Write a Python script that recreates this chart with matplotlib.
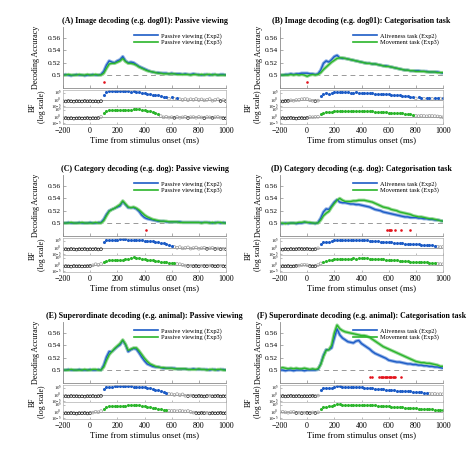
import matplotlib
matplotlib.use('Agg')
import matplotlib.pyplot as plt
from matplotlib.lines import Line2D
import numpy as np

plt.rcParams['font.family'] = ['Liberation Serif', 'DejaVu Serif']
plt.rcParams['mathtext.fontset'] = 'stix'

# time points (ms), 20 ms steps
times = list(range(-200, 1001, 20))

# ---- decoding accuracy, Exp2 (blue) / Exp3 (green) ----
acc_a2 = [0.500, 0.501, 0.500, 0.499, 0.500, 0.501, 0.500, 0.500, 0.499, 0.500,
          0.500, 0.501, 0.500, 0.500, 0.501, 0.506, 0.516, 0.523, 0.521, 0.520,
          0.523, 0.525, 0.530, 0.523, 0.520, 0.521, 0.520, 0.517, 0.514, 0.512,
          0.510, 0.508, 0.506, 0.505, 0.504, 0.504, 0.503, 0.503, 0.503, 0.502,
          0.503, 0.502, 0.502, 0.502, 0.501, 0.502, 0.501, 0.501, 0.502, 0.501,
          0.501, 0.500, 0.501, 0.501, 0.500, 0.501, 0.501, 0.500, 0.501, 0.501,
          0.500]
acc_a3 = [0.500, 0.500, 0.501, 0.500, 0.500, 0.500, 0.501, 0.500, 0.500, 0.501,
          0.500, 0.500, 0.501, 0.500, 0.500, 0.503, 0.511, 0.518, 0.519, 0.519,
          0.521, 0.523, 0.527, 0.522, 0.519, 0.519, 0.518, 0.516, 0.513, 0.511,
          0.509, 0.507, 0.506, 0.505, 0.504, 0.503, 0.503, 0.502, 0.502, 0.502,
          0.502, 0.502, 0.501, 0.501, 0.501, 0.501, 0.501, 0.500, 0.501, 0.501,
          0.500, 0.501, 0.500, 0.501, 0.501, 0.500, 0.501, 0.500, 0.500, 0.500,
          0.500]
acc_b2 = [0.500, 0.500, 0.501, 0.501, 0.502, 0.501, 0.502, 0.502, 0.503, 0.503,
          0.503, 0.502, 0.502, 0.501, 0.502, 0.508, 0.519, 0.523, 0.521, 0.525,
          0.530, 0.532, 0.528, 0.527, 0.527, 0.526, 0.525, 0.524, 0.523, 0.522,
          0.521, 0.520, 0.519, 0.519, 0.518, 0.518, 0.517, 0.516, 0.515, 0.515,
          0.514, 0.513, 0.512, 0.511, 0.510, 0.509, 0.508, 0.508, 0.507, 0.507,
          0.507, 0.507, 0.506, 0.506, 0.506, 0.505, 0.505, 0.505, 0.505, 0.504,
          0.503]
acc_b3 = [0.500, 0.500, 0.500, 0.500, 0.501, 0.500, 0.501, 0.500, 0.501, 0.500,
          0.498, 0.500, 0.501, 0.500, 0.501, 0.504, 0.509, 0.513, 0.517, 0.521,
          0.524, 0.527, 0.528, 0.528, 0.527, 0.526, 0.525, 0.524, 0.523, 0.522,
          0.521, 0.520, 0.519, 0.519, 0.518, 0.518, 0.517, 0.516, 0.515, 0.514,
          0.514, 0.513, 0.512, 0.511, 0.510, 0.509, 0.508, 0.508, 0.507, 0.507,
          0.506, 0.506, 0.506, 0.506, 0.505, 0.505, 0.505, 0.505, 0.504, 0.504,
          0.504]
acc_c2 = [0.500, 0.500, 0.501, 0.500, 0.500, 0.500, 0.501, 0.500, 0.500, 0.500,
          0.501, 0.500, 0.500, 0.501, 0.501, 0.506, 0.514, 0.520, 0.522, 0.524,
          0.526, 0.528, 0.535, 0.530, 0.525, 0.525, 0.525, 0.523, 0.519, 0.513,
          0.509, 0.507, 0.506, 0.505, 0.504, 0.503, 0.503, 0.503, 0.502, 0.502,
          0.502, 0.502, 0.502, 0.502, 0.501, 0.501, 0.501, 0.501, 0.501, 0.501,
          0.501, 0.501, 0.501, 0.501, 0.501, 0.500, 0.501, 0.501, 0.500, 0.501,
          0.500]
acc_c3 = [0.500, 0.500, 0.500, 0.501, 0.500, 0.500, 0.500, 0.501, 0.500, 0.500,
          0.500, 0.500, 0.501, 0.500, 0.500, 0.504, 0.512, 0.519, 0.522, 0.524,
          0.527, 0.530, 0.536, 0.531, 0.526, 0.525, 0.526, 0.524, 0.521, 0.517,
          0.513, 0.510, 0.508, 0.506, 0.505, 0.504, 0.503, 0.503, 0.503, 0.502,
          0.502, 0.502, 0.502, 0.501, 0.501, 0.501, 0.501, 0.501, 0.501, 0.501,
          0.501, 0.500, 0.501, 0.501, 0.500, 0.501, 0.500, 0.501, 0.501, 0.500,
          0.500]
acc_d2 = [0.499, 0.499, 0.500, 0.499, 0.500, 0.500, 0.499, 0.500, 0.500, 0.501,
          0.501, 0.500, 0.500, 0.499, 0.501, 0.508, 0.518, 0.523, 0.522, 0.528,
          0.534, 0.538, 0.534, 0.533, 0.533, 0.532, 0.531, 0.531, 0.530, 0.530,
          0.529, 0.528, 0.527, 0.526, 0.524, 0.522, 0.521, 0.520, 0.518, 0.517,
          0.516, 0.515, 0.514, 0.513, 0.512, 0.511, 0.510, 0.510, 0.509, 0.509,
          0.509, 0.508, 0.508, 0.507, 0.507, 0.506, 0.506, 0.505, 0.505, 0.504,
          0.503]
acc_d3 = [0.500, 0.500, 0.499, 0.500, 0.500, 0.500, 0.500, 0.501, 0.501, 0.502,
          0.501, 0.501, 0.500, 0.500, 0.500, 0.505, 0.512, 0.516, 0.519, 0.526,
          0.532, 0.537, 0.540, 0.537, 0.535, 0.535, 0.535, 0.536, 0.536, 0.537,
          0.537, 0.537, 0.536, 0.535, 0.534, 0.532, 0.530, 0.528, 0.526, 0.525,
          0.524, 0.522, 0.521, 0.520, 0.518, 0.517, 0.516, 0.515, 0.514, 0.512,
          0.511, 0.510, 0.510, 0.509, 0.508, 0.507, 0.507, 0.506, 0.505, 0.504,
          0.503]
acc_e2 = [0.500, 0.500, 0.501, 0.500, 0.500, 0.500, 0.501, 0.500, 0.500, 0.500,
          0.501, 0.500, 0.500, 0.501, 0.500, 0.508, 0.521, 0.530, 0.530, 0.534,
          0.538, 0.541, 0.548, 0.541, 0.530, 0.533, 0.535, 0.534, 0.528, 0.521,
          0.515, 0.510, 0.508, 0.506, 0.505, 0.505, 0.504, 0.503, 0.503, 0.503,
          0.503, 0.503, 0.502, 0.502, 0.502, 0.502, 0.501, 0.501, 0.502, 0.501,
          0.501, 0.501, 0.501, 0.501, 0.500, 0.501, 0.501, 0.500, 0.501, 0.501,
          0.500]
acc_e3 = [0.500, 0.500, 0.500, 0.501, 0.500, 0.500, 0.500, 0.500, 0.501, 0.500,
          0.500, 0.501, 0.501, 0.500, 0.500, 0.505, 0.516, 0.525, 0.530, 0.535,
          0.539, 0.543, 0.549, 0.542, 0.532, 0.534, 0.536, 0.536, 0.531, 0.525,
          0.519, 0.514, 0.510, 0.508, 0.506, 0.505, 0.504, 0.504, 0.503, 0.503,
          0.503, 0.502, 0.502, 0.502, 0.502, 0.502, 0.501, 0.501, 0.501, 0.501,
          0.502, 0.501, 0.501, 0.500, 0.501, 0.501, 0.500, 0.501, 0.501, 0.500,
          0.500]
acc_f2 = [0.500, 0.500, 0.499, 0.500, 0.500, 0.499, 0.500, 0.500, 0.500, 0.499,
          0.500, 0.500, 0.500, 0.500, 0.501, 0.510, 0.524, 0.533, 0.533, 0.536,
          0.552, 0.567, 0.557, 0.552, 0.549, 0.546, 0.545, 0.544, 0.547, 0.548,
          0.543, 0.540, 0.537, 0.534, 0.530, 0.527, 0.525, 0.523, 0.521, 0.519,
          0.516, 0.515, 0.514, 0.513, 0.513, 0.512, 0.511, 0.510, 0.510, 0.509,
          0.509, 0.508, 0.508, 0.507, 0.507, 0.506, 0.506, 0.505, 0.505, 0.504,
          0.503]
acc_f3 = [0.503, 0.504, 0.503, 0.502, 0.503, 0.502, 0.503, 0.502, 0.502, 0.503,
          0.502, 0.501, 0.502, 0.501, 0.502, 0.509, 0.522, 0.532, 0.533, 0.540,
          0.560, 0.573, 0.567, 0.564, 0.562, 0.561, 0.560, 0.559, 0.558, 0.557,
          0.556, 0.556, 0.555, 0.553, 0.550, 0.547, 0.544, 0.541, 0.538, 0.536,
          0.534, 0.532, 0.530, 0.528, 0.526, 0.524, 0.522, 0.520, 0.518, 0.516,
          0.514, 0.513, 0.512, 0.512, 0.511, 0.511, 0.510, 0.509, 0.508, 0.506,
          0.506]

# ---- Bayes factors (log10 BF) vs chance ----
bf_a2 = [-1.2, -1.4, -1.1, -1.3, -1.5, -1.2, -1.3, -1.4, -1.1, -1.3,
         -1.2, -1.4, -1.3, -1.5, -1.2, 3.0, 5.2, 6.0, 6.2, 6.0,
         6.1, 6.3, 6.4, 6.2, 6.0, 5.8, 5.9, 5.6, 5.2, 5.0,
         4.6, 4.3, 4.0, 3.6, 3.3, 3.0, 2.6, 2.2, 1.8, 0.6,
         1.5, 0.4, 1.2, 0.2, -0.3, 0.3, -0.5, 0.2, -0.2, 0.4,
         -0.4, 0.1, -0.6, -0.2, 0.3, -0.9, -0.3, 0.2, -1.1, -0.4,
         -1.2]
bf_a3 = [-1.3, -1.1, -1.4, -1.2, -1.5, -1.3, -1.2, -1.4, -1.3, -1.1,
         -1.4, -1.2, -1.3, -1.1, -0.3, 2.8, 4.2, 4.6, 4.8, 4.7,
         4.8, 5.0, 5.1, 4.9, 4.8, 5.0, 5.3, 5.4, 5.2, 5.0,
         4.7, 4.3, 3.9, 3.4, 2.8, 1.8, 0.3, -0.6, -0.2, -0.8,
         -0.5, -1.0, -0.3, -0.9, -0.6, -0.2, -1.1, -0.5, -0.4, -0.9,
         -0.3, -0.7, -1.2, -0.4, -0.6, -1.0, -0.5, -0.3, -0.8, -1.2,
         -1.3]
bf_b2 = [-1.2, -1.4, -1.1, -1.0, -0.6, -0.9, -0.4, -0.3, 0.2, 0.4,
         0.3, -0.5, -0.9, -1.2, -0.8, 2.5, 4.0, 4.5, 4.4, 4.8,
         5.2, 5.6, 5.5, 5.3, 5.5, 5.2, 5.0, 5.1, 5.3, 5.0,
         4.9, 4.8, 4.7, 4.5, 4.6, 4.4, 4.3, 4.1, 4.0, 3.9,
         3.7, 3.6, 3.4, 3.2, 3.0, 2.8, 2.6, 2.4, 2.0, 1.6,
         0.8, 1.5, 1.2, 0.6, 1.3, 1.1, 0.5, 1.2, 1.0, 0.7,
         1.2]
bf_b3 = [-1.3, -1.1, -1.4, -1.2, -1.0, -1.3, -1.5, -1.2, -1.1, -1.3,
         -1.0, -0.4, -0.5, -0.3, -0.2, 1.5, 2.6, 3.0, 3.2, 3.5,
         3.8, 4.0, 4.2, 4.1, 4.3, 4.2, 4.0, 3.9, 4.1, 4.0,
         3.8, 3.9, 4.1, 3.9, 3.7, 3.6, 3.4, 3.3, 3.1, 3.0,
         2.9, 2.8, 2.7, 2.6, 2.5, 2.3, 2.1, 1.8, 1.5, 1.2,
         0.5, 0.3, 0.6, 0.4, 0.2, 0.5, 0.4, 0.3, 0.1, -0.2,
         -0.6]
bf_c2 = [-1.3, -1.2, -1.4, -1.1, -1.3, -1.5, -1.2, -1.3, -1.1, -1.4,
         -1.2, -1.3, -1.1, -1.4, -1.2, 3.8, 5.2, 5.4, 5.5, 5.6,
         5.8, 6.0, 6.2, 6.0, 5.8, 5.6, 5.5, 5.4, 5.3, 5.2,
         5.0, 4.9, 4.7, 4.5, 4.4, 4.0, 3.6, 3.2, 2.6, 2.0,
         1.4, 0.4, -0.2, 0.3, -0.6, -0.3, 0.1, -0.8, -0.4, 0.0,
         -0.9, -0.5, -0.2, -1.0, -0.6, -0.3, -1.1, -0.7, -1.2, -0.9,
         -1.3]
bf_c3 = [-1.4, -1.2, -1.3, -1.5, -1.1, -1.3, -1.2, -1.4, -1.3, -1.2,
         -1.1, -0.6, 0.2, -0.3, 0.4, 1.5, 2.4, 3.0, 3.2, 3.1,
         3.4, 3.6, 3.5, 3.8, 4.2, 4.8, 5.3, 5.0, 4.5, 4.2,
         3.9, 3.6, 3.3, 3.0, 2.6, 2.4, 2.1, 1.8, 1.6, 1.4,
         1.3, 1.1, 0.4, 0.2, -0.3, -0.8, -1.1, -0.9, -1.2, -1.0,
         -1.3, -0.9, -1.1, -1.2, -0.8, -1.0, -1.3, -1.1, -0.9, -1.2,
         -1.4]
bf_d2 = [-1.3, -1.5, -1.2, -1.4, -1.1, -1.3, -1.2, -1.0, -1.1, -1.2,
         -1.0, -1.3, -1.4, -1.2, -0.6, 2.6, 4.0, 4.4, 4.3, 4.8,
         5.3, 5.6, 5.5, 5.4, 5.6, 5.5, 5.4, 5.3, 5.5, 5.6,
         5.4, 5.2, 5.3, 5.1, 4.9, 4.8, 4.5, 4.3, 4.2, 4.0,
         3.8, 3.7, 3.5, 3.4, 3.2, 3.1, 2.9, 2.8, 2.7, 2.5,
         2.4, 2.3, 2.1, 2.0, 1.9, 1.7, 1.5, 1.4, 0.6, 0.3,
         0.5]
bf_d3 = [-1.4, -1.2, -1.3, -1.1, -1.4, -1.3, -1.0, -0.8, -0.4, -0.2,
         -0.5, -1.1, -1.3, -1.2, -0.4, 0.8, 1.8, 2.6, 3.0, 3.4,
         3.8, 4.2, 4.4, 4.3, 4.2, 4.3, 4.4, 4.5, 4.4, 4.5,
         4.5, 4.6, 4.5, 4.4, 4.4, 4.3, 4.1, 4.0, 3.8, 3.6,
         3.5, 3.3, 3.2, 3.0, 2.8, 2.7, 2.5, 2.3, 2.1, 2.0,
         1.8, 1.7, 1.6, 1.6, 1.5, 1.4, 1.3, 1.2, 0.5, 0.3,
         0.2]
bf_e2 = [-1.3, -1.2, -1.4, -1.1, -1.3, -1.2, -1.4, -1.3, -1.5, -1.2,
         -1.3, -1.1, -1.4, -1.2, -1.0, 4.0, 5.2, 5.6, 5.8, 6.0,
         6.1, 6.2, 6.3, 6.2, 6.0, 5.9, 5.8, 5.8, 5.6, 5.4,
         5.2, 4.9, 4.5, 4.0, 3.5, 3.0, 2.4, 1.8, 1.2, 0.4,
         0.2, -0.3, 0.3, -0.5, 0.1, -0.9, -1.2, -0.8, -1.1, -1.3,
         -1.0, -1.2, -1.4, -1.1, -0.9, -1.3, -1.2, -1.0, -1.4, -1.2,
         -1.3]
bf_e3 = [-1.4, -1.2, -1.3, -1.1, -1.3, -1.5, -1.2, -1.3, -1.1, -1.4,
         -1.2, -0.8, -0.2, -0.5, 0.3, 2.0, 3.6, 4.2, 4.4, 4.3,
         4.1, 4.2, 4.3, 4.4, 4.6, 4.9, 5.0, 4.8, 4.6, 4.3,
         4.0, 3.6, 3.2, 2.8, 2.4, 2.1, 1.8, 1.4, 1.1, 0.6,
         0.4, 0.5, 0.2, 0.6, 0.3, 0.1, 0.4, -0.3, -0.8, -1.1,
         -1.3, -1.0, -1.2, -0.9, -1.4, -1.1, -1.3, -1.2, -1.0, -1.3,
         -1.2]
bf_f2 = [-1.3, -1.1, -1.4, -1.2, -1.0, -1.3, -1.2, -1.1, -1.4, -1.2,
         -1.3, -1.2, -1.0, -1.3, -0.8, 3.0, 4.5, 4.8, 4.6, 5.0,
         5.6, 6.0, 5.9, 5.8, 5.7, 5.6, 5.5, 5.5, 5.4, 5.4,
         5.3, 5.1, 5.0, 4.8, 4.6, 4.4, 4.2, 4.0, 3.8, 3.6,
         3.4, 3.2, 3.1, 2.9, 2.8, 2.6, 2.5, 2.4, 2.3, 2.1,
         2.0, 1.9, 1.6, 1.3, 1.2, 0.6, 0.4, 0.5, 0.2, 0.3,
         0.2]
bf_f3 = [-0.4, -0.2, -0.6, -0.9, -0.5, -0.3, -1.1, -0.8, -1.2, -0.9,
         -1.0, -1.2, -0.7, -1.1, -0.6, 2.0, 3.2, 3.6, 3.8, 4.2,
         4.8, 5.3, 5.2, 5.1, 5.0, 5.0, 4.9, 4.9, 4.8, 4.8,
         4.8, 4.7, 4.7, 4.6, 4.6, 4.5, 4.4, 4.2, 4.0, 3.9,
         3.8, 3.6, 3.4, 3.3, 3.1, 3.0, 2.8, 2.7, 2.5, 2.4,
         2.3, 2.1, 2.0, 1.9, 1.8, 1.6, 1.5, 1.4, 1.3, 1.2,
         1.1]

# time points where Exp2 and Exp3 differ (red dots)
diff_a = [100]
diff_b = [0]
diff_c = [410]
diff_d = [590, 600, 610, 620, 650, 690, 760]
diff_e = []
diff_f = [460, 475, 530, 540, 550, 560, 570, 580, 590, 600, 610, 620, 630, 640, 650, 690]

titles = ['(A) Image decoding (e.g. dog01): Passive viewing',
          '(B) Image decoding (e.g. dog01): Categorisation task',
          '(C) Category decoding (e.g. dog): Passive viewing',
          '(D) Category decoding (e.g. dog): Categorisation task',
          '(E) Superordinate decoding (e.g. animal): Passive viewing',
          '(F) Superordinate decoding (e.g. animal): Categorisation task']
legend_passive = ['Passive viewing (Exp2)', 'Passive viewing (Exp3)']
legend_task = ['Aliveness task (Exp2)', 'Movement task (Exp3)']

panels = [
    (acc_a2, acc_a3, bf_a2, bf_a3, diff_a, legend_passive),
    (acc_b2, acc_b3, bf_b2, bf_b3, diff_b, legend_task),
    (acc_c2, acc_c3, bf_c2, bf_c3, diff_c, legend_passive),
    (acc_d2, acc_d3, bf_d2, bf_d3, diff_d, legend_task),
    (acc_e2, acc_e3, bf_e2, bf_e3, diff_e, legend_passive),
    (acc_f2, acc_f3, bf_f2, bf_f3, diff_f, legend_task),
]

BLUE = '#1d5cc6'
GREEN = '#2bb52b'
BLUE_LT = '#8fb0e6'
GREEN_LT = '#9ad99a'
GRID = '#8a8a8a'

W, H = 474, 472
fig = plt.figure(figsize=(W / 100, H / 100), dpi=100)


def px_axes(x0, top, w, h):
    return fig.add_axes([x0 / W, 1 - (top + h) / H, w / W, h / H])


col_x = [63, 280]
col_w = 163
row_top = [27, 175, 322]
main_h, bf_h = 61, 17

for i, (a2, a3, b2, b3, diffs, labels) in enumerate(panels):
    col, row = i % 2, i // 2
    x0, top = col_x[col], row_top[row]

    ax = px_axes(x0, top, col_w, main_h)
    ax.plot(times, a2, color=BLUE_LT, lw=2.4, solid_capstyle='butt')
    ax.plot(times, a3, color=GREEN_LT, lw=2.4, solid_capstyle='butt')
    ax.plot(times, a2, color=BLUE, lw=1.0)
    ax.plot(times, a3, color=GREEN, lw=1.0)
    ax.axhline(0.5, color='#999999', lw=0.7, ls=(0, (5, 4)), zorder=0)
    if diffs:
        ax.scatter(diffs, [0.489] * len(diffs), s=3.5, color='#e3121b', marker='o', lw=0)
    ax.set_xlim(-200, 1000)
    ax.set_ylim(0.479, 0.578)
    ax.set_yticks([0.5, 0.52, 0.54, 0.56])
    ax.set_yticklabels(['0.5', '0.52', '0.54', '0.56'])
    ax.set_xticks(range(-200, 1001, 200))
    ax.set_xticklabels([])
    for s in ['top', 'right']:
        ax.spines[s].set_visible(False)
    for s in ['left', 'bottom']:
        ax.spines[s].set_color(GRID)
        ax.spines[s].set_linewidth(0.6)
    ax.tick_params(direction='in', length=2, width=0.5, color=GRID,
                   labelsize=5.4, pad=1.5)
    ax.set_title(titles[i], fontsize=5.7, fontweight='bold', pad=3)

    handles = [Line2D([], [], color=BLUE, lw=1.2), Line2D([], [], color=GREEN, lw=1.2)]
    ax.legend(handles, labels, loc='upper right', frameon=False, fontsize=4.6,
              handlelength=3.8, handletextpad=0.4, labelspacing=0.15,
              borderaxespad=0.3, bbox_to_anchor=(1.0, 0.98))

    fig.text((x0 - (27 if col == 0 else 21)) / W, 1 - (top + main_h / 2) / H,
             'Decoding Accuracy', rotation=90, ha='center', va='center', fontsize=5.8)

    # Bayes factor strips
    for k, (bf, col_c) in enumerate([(b2, BLUE), (b3, GREEN)]):
        bax = px_axes(x0, top + main_h + 2 + k * bf_h, col_w, bf_h)
        bf = np.array(bf)
        t = np.array(times)
        strong = bf >= 1
        null = bf <= -1
        mid = ~strong & ~null
        bax.axhline(0, color='#9a9a9a', lw=0.6, zorder=0)
        bax.scatter(t[null], bf[null], s=4, facecolors='none', edgecolors='#222222', lw=0.5)
        bax.scatter(t[mid], bf[mid], s=4, facecolors='none', edgecolors='#9a9a9a', lw=0.5)
        bax.scatter(t[strong], bf[strong], s=5, color=col_c, lw=0)
        bax.set_xlim(-200, 1000)
        bax.set_ylim(-5.5, 7)
        bax.set_yticks([-5, 0, 5])
        bax.set_yticklabels(['$10^{-5}$', '$10^{0}$', '$10^{5}$'])
        bax.set_xticks(range(-200, 1001, 200))
        for s in bax.spines.values():
            s.set_color('#b0b0b0')
            s.set_linewidth(0.5)
        bax.tick_params(direction='in', length=1.5, width=0.4, color=GRID,
                        labelsize=3.4, pad=0.8)
        if k == 0:
            bax.set_xticklabels([])
        else:
            bax.tick_params(axis='x', labelsize=5.8, pad=2)
            bax.set_xlabel('Time from stimulus onset (ms)', fontsize=6.3, labelpad=1)

    bf_mid = 1 - (top + main_h + 2 + bf_h) / H
    fig.text((x0 - (30 if col == 0 else 31)) / W, bf_mid, 'BF', rotation=90,
             ha='center', va='center', fontsize=5.6)
    fig.text((x0 - (21 if col == 0 else 22)) / W, bf_mid, '(log scale)', rotation=90,
             ha='center', va='center', fontsize=5.6)

fig.savefig('out.png', dpi=100)
